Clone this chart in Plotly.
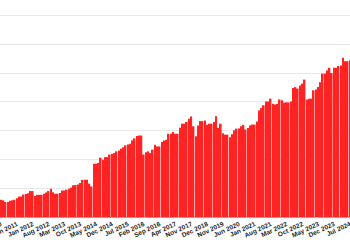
import plotly.graph_objects as go

MONTHS = ["Jan", "Feb", "Mar", "Apr", "May", "Jun",
          "Jul", "Aug", "Sep", "Oct", "Nov", "Dec"]

# months absent from the series (the category axis skips them)
skipped_months = ["Dec 2017", "Feb 2018", "Apr 2018", "Jun 2018", "Aug 2018", "Oct 2018",
                  "Jan 2019", "Mar 2019", "Jun 2019", "Sep 2019"]

def month_range(y0, m0, y1, m1):
    out = []
    y, m = y0, m0
    while (y, m) <= (y1, m1):
        out.append(f"{MONTHS[m - 1]} {y}")
        m += 1
        if m > 12:
            m, y = 1, y + 1
    return out

categories = [c for c in month_range(2010, 11, 2024, 7) if c not in skipped_months]

values = [
    60, 58, 52, 52, 56, 58, 60, 65, 71, 71,
    78, 80, 82, 90, 90, 73, 77, 77, 77, 81,
    85, 90, 98, 86, 81, 81, 83, 92, 92, 95,
    98, 102, 110, 111, 113, 118, 129, 129, 129, 116,
    106, 185, 185, 188, 206, 199, 208, 208, 217, 219,
    222, 228, 231, 237, 242, 249, 252, 254, 266, 273,
    281, 283, 283, 217, 225, 228, 222, 234, 251, 245,
    245, 260, 266, 268, 289, 289, 295, 289, 289, 310,
    324, 324, 330, 341, 349, 315, 280, 318, 333, 333,
    335, 320, 324, 324, 330, 350, 310, 324, 291, 286,
    286, 277, 287, 301, 307, 307, 315, 320, 304, 309,
    318, 321, 321, 332, 370, 378, 388, 401, 401, 411,
    393, 391, 393, 408, 405, 397, 398, 398, 401, 448,
    451, 446, 457, 463, 477, 408, 411, 411, 440, 443,
    451, 468, 498, 498, 509, 518, 500, 518, 518, 524,
    526, 553, 541, 541, 544,
]

tick_labels = categories[0::7]

fig = go.Figure(
    go.Bar(
        x=categories,
        y=values,
        marker=dict(color="#ff2424", line=dict(width=0)),
        hoverinfo="skip",
    )
)

fig.update_layout(
    width=350,
    height=250,
    margin=dict(l=0, r=0, t=0, b=33),
    paper_bgcolor="white",
    plot_bgcolor="white",
    bargap=0.28,
    showlegend=False,
)

fig.update_xaxes(
    type="category",
    range=[-0.45, 154.05],
    tickmode="array",
    tickvals=tick_labels,
    ticktext=tick_labels,
    tickangle=-25,
    tickfont=dict(family="Liberation Sans", size=6.5, color="#222222", weight="bold"),
    showline=True,
    linecolor="#a8a8a8",
    linewidth=1,
    showgrid=False,
    ticks="",
    automargin=False,
)

fig.update_yaxes(
    range=[0, 753.5],
    dtick=100,
    showticklabels=False,
    showgrid=True,
    gridcolor="#e9e9e9",
    gridwidth=1,
    zeroline=False,
    automargin=False,
)

fig.write_html("out.html")
